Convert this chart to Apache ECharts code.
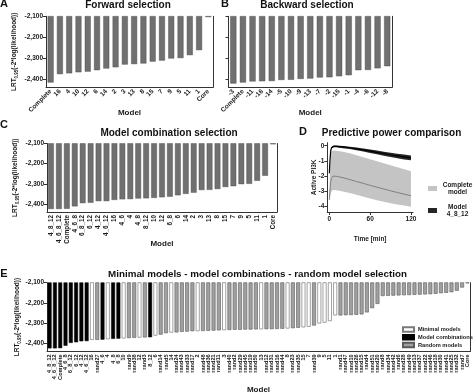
<!DOCTYPE html>
<html><head><meta charset="utf-8">
<script src="https://cdn.jsdelivr.net/npm/echarts@6/dist/echarts.min.js"></script>
<style>html,body{margin:0;padding:0;background:#fff}#c{width:474px;height:392px}</style>
</head><body><div id="c"></div>
<script>
// ---------- DATA ----------
const lrtTicks = [-2400, -2300, -2200, -2100];

const aCategories = ['Complete','16','4','10','12','6','14','2','3','13','8','15','7','9','5','11','1','Core'];
const aValues = [-2417,-2377,-2373,-2368,-2365,-2358,-2350,-2344,-2331,-2329,-2326,-2317,-2312,-2302,-2300,-2286,-2262,-2104];

const bCategories = ['-3','Complete','-11','-16','-14','-5','-10','-9','-13','-7','-2','-15','-1','-4','-6','-12','-8'];
const bValues = [-2422,-2417,-2412,-2411,-2410,-2405,-2404,-2400,-2398,-2393,-2392,-2387,-2382,-2358,-2357,-2349,-2339];

const cCategories = ['4_8_12','4_6_8_12','Complete','4_6_8','6_8_12','6_12','4_12','4_6_12','16','4_6','4','4_8','8_12','10','12','6_8','6','14','2','3','13','8','15','7','9','5','11','1','Core'];
const cValues = [-2425,-2425,-2424,-2412,-2396,-2394,-2386,-2386,-2380,-2377,-2376,-2373,-2372,-2370,-2367,-2364,-2357,-2350,-2344,-2331,-2330,-2326,-2316,-2312,-2302,-2300,-2285,-2260,-2104];

const dTimes = [0,1,2,3,4,5,7,10,15,20,30,40,50,60,70,80,90,100,110,120];
const dCompleteMean = [-3.55,-2.9,-2.4,-2.15,-2.05,-2.0,-1.98,-2.0,-2.05,-2.1,-2.22,-2.35,-2.47,-2.6,-2.72,-2.84,-2.96,-3.07,-3.18,-3.28];
const dCompleteHigh = [-3.4,-1.6,-0.6,-0.4,-0.35,-0.33,-0.32,-0.33,-0.36,-0.4,-0.5,-0.62,-0.75,-0.88,-1.02,-1.15,-1.28,-1.42,-1.55,-1.68];
const dCompleteLow = [-3.62,-3.4,-3.15,-3.0,-2.95,-2.92,-2.9,-2.92,-2.96,-3.0,-3.1,-3.22,-3.35,-3.47,-3.58,-3.68,-3.77,-3.85,-3.93,-4.0];
const dModelMean = [-1.8,-0.9,-0.35,-0.15,-0.08,-0.05,-0.04,-0.04,-0.06,-0.08,-0.13,-0.2,-0.27,-0.35,-0.43,-0.51,-0.59,-0.66,-0.73,-0.8];
const dModelHigh = [-1.75,-0.85,-0.3,-0.1,-0.03,0.0,0.01,0.01,0.0,-0.02,-0.06,-0.12,-0.18,-0.25,-0.32,-0.39,-0.46,-0.52,-0.58,-0.64];
const dModelLow = [-1.85,-0.95,-0.4,-0.2,-0.13,-0.1,-0.1,-0.1,-0.13,-0.16,-0.22,-0.3,-0.38,-0.47,-0.56,-0.65,-0.74,-0.82,-0.9,-0.96];
const dXTicks = [0, 60, 120];
const dYTicks = [0, -1, -2, -3, -4];

const eCategories = ['4_8_12','4_6_8_12','Complete','4_6_8','6_8_12','6_12','4_12','4_6_12','16','rand27',
 '4_6','4','4_8','6_8','10','rand9','rand38','12','rand3','8_12',
 '6','rand14','rand5','14','rand24','rand43','rand33','rand17','2','rand48',
 'rand36','rand21','rand11','3','rand40','rand2','rand29','rand45','rand19','rand50',
 '13','rand12','rand31','rand16','rand44','8','rand23','rand35','15','7',
 'rand39','9','5','11','1','rand1','rand47','rand10','rand26','rand15',
 'rand4','rand51','rand20','rand8','rand34','rand42','rand6','rand28','rand49','rand13',
 'rand37','rand22','rand46','rand18','rand30','rand41','rand25','rand32','rand7','Core'];
const eTypes = ['C','C','C','C','C','C','C','C','M','R',
 'C','M','C','C','M','R','R','M','R','C',
 'M','R','R','M','R','R','R','R','M','R',
 'R','R','R','M','R','R','R','R','R','R',
 'M','R','R','R','R','M','R','R','M','M',
 'R','M','M','M','M','R','R','R','R','R',
 'R','R','R','R','R','R','R','R','R','R',
 'R','R','R','R','R','R','R','R','R','R'];
const eValues = [-2425,-2425,-2424,-2412,-2398,-2395,-2390,-2389,-2383,-2383,
 -2382,-2380,-2378,-2377,-2376,-2374,-2373,-2372,-2371,-2370,
 -2362,-2357,-2350,-2347,-2346,-2343,-2342,-2340,-2340,-2339,
 -2338,-2337,-2336,-2335,-2334,-2333,-2333,-2332,-2332,-2331,
 -2331,-2330,-2330,-2329,-2328,-2327,-2325,-2323,-2321,-2318,
 -2312,-2302,-2298,-2290,-2262,-2262,-2261,-2260,-2259,-2257,
 -2247,-2226,-2205,-2166,-2165,-2164,-2163,-2162,-2161,-2160,
 -2159,-2158,-2157,-2155,-2152,-2150,-2147,-2140,-2124,-2103];

// ---------- CHART ----------
const FONT = '"Liberation Sans", Arial, sans-serif';
const TXT = '#1a1a1a';
const lineSt = {color:'#333', width:1};
const fmtLRT = v => v.toLocaleString('en-US');
const lrtName = 'LRT{s|0.95}(-2*log(likelihood))';
const lrtNameStyle = {fontSize:6.5, fontWeight:'bold', color:TXT, fontFamily:FONT,
  rich:{s:{fontSize:4.5, fontWeight:'bold', color:TXT, fontFamily:FONT, padding:[4,0,0,0]}}};

function lrtY(grid, showLabels, withName, gap){
  return {gridIndex:grid, type:'value', min:-2440, max:-2100, position:'left',
    axisLine:{show:true, lineStyle:lineSt},
    axisTick:{show:true, length:3, customValues:lrtTicks, lineStyle:lineSt},
    axisLabel:{show:showLabels, customValues:lrtTicks, formatter:fmtLRT, fontSize:6.5, fontWeight:'bold', color:TXT, fontFamily:FONT, margin:3},
    splitLine:{show:false},
    name: withName ? lrtName : '', nameLocation:'middle', nameGap:gap, nameRotate:90, nameMoveOverlap:false,
    nameTextStyle: lrtNameStyle};
}
function boxY(grid){
  return {gridIndex:grid, type:'value', min:-2440, max:-2100, position:'right',
    axisLine:{show:true, lineStyle:lineSt}, axisTick:{show:false}, axisLabel:{show:false}, splitLine:{show:false}};
}
function catX(grid, cats, rotate, fs, gap){
  return {gridIndex:grid, type:'category', data:cats,
    axisLine:{onZero:false, lineStyle:lineSt},
    axisTick:{alignWithLabel:true, length:2.5, lineStyle:lineSt},
    axisLabel:{interval:0, rotate:rotate, fontSize:fs, fontWeight:'bold', color:TXT, fontFamily:FONT, margin:3},
    name:'Model', nameLocation:'middle', nameGap:gap, nameMoveOverlap:false,
    nameTextStyle:{fontSize:8, fontWeight:'bold', color:TXT, fontFamily:FONT}};
}
const greyBar = {color:'#707070', borderColor:'#454545', borderWidth:0.4};

function band(name, lo, hi, fill){
  return {type:'custom', name:name, xAxisIndex:3, yAxisIndex:6, silent:true,
    itemStyle:{color:fill}, data:[[dTimes[0], lo[0]]], encode:{x:0, y:1},
    renderItem:(params, api) => {
      const pts = [];
      for (let i=0;i<dTimes.length;i++) pts.push(api.coord([dTimes[i], hi[i]]));
      for (let i=dTimes.length-1;i>=0;i--) pts.push(api.coord([dTimes[i], lo[i]]));
      return {type:'polygon', shape:{points:pts}, style:{fill:fill}};
    }};
}
function meanLine(vals, color, w){
  return {type:'line', xAxisIndex:3, yAxisIndex:6, silent:true, symbol:'none',
    data:dTimes.map((t,i)=>[t, vals[i]]), lineStyle:{color:color, width:w}, itemStyle:{color:color}};
}
function eSeries(name, type, style){
  return {type:'bar', name:name, xAxisIndex:4, yAxisIndex:7, silent:true, barGap:'-100%', barCategoryGap:'26%',
    data:eValues.map((v,i)=> eTypes[i]===type ? v : '-'), itemStyle:style};
}

const title = (txt, x, y, fs) => ({type:'text', x:x, y:y, style:{text:txt, fontSize:fs, fontWeight:'bold', fill:'#111', fontFamily:FONT, textAlign:'center', textVerticalAlign:'middle'}});

const option = {
  animation:false,
  textStyle:{fontFamily:FONT},
  grid:[
    {left:46, top:16.3, width:167, height:71, outerBoundsMode:'none'},
    {left:228.5, top:16.3, width:163.5, height:71, outerBoundsMode:'none'},
    {left:47, top:143.5, width:230, height:68.5, outerBoundsMode:'none'},
    {left:327.3, top:142.7, width:85.7, height:69.3, outerBoundsMode:'none'},
    {left:47, top:282.7, width:423, height:68.7, outerBoundsMode:'none'}
  ],
  xAxis:[
    catX(0, aCategories, 45, 6.5, 21),
    catX(1, bCategories, 45, 6.5, 21),
    catX(2, cCategories, 90, 6.3, 28),
    {gridIndex:3, type:'value', min:-3, max:123,
      axisLine:{onZero:false, lineStyle:lineSt},
      axisTick:{length:3, customValues:dXTicks, lineStyle:lineSt},
      axisLabel:{customValues:dXTicks, fontSize:6.5, fontWeight:'bold', color:TXT, fontFamily:FONT, margin:4},
      splitLine:{show:false},
      name:'Time [min]', nameLocation:'middle', nameGap:24, nameMoveOverlap:false,
      nameTextStyle:{fontSize:6.5, fontWeight:'bold', color:TXT, fontFamily:FONT}},
    catX(4, eCategories, 90, 5.6, 34)
  ],
  yAxis:[
    lrtY(0, true, true, 27), boxY(0),
    lrtY(1, false, false, 0), boxY(1),
    lrtY(2, true, true, 27), boxY(2),
    {gridIndex:3, type:'value', min:-4.35, max:0.2,
      axisLine:{show:true, onZero:false, lineStyle:lineSt},
      axisTick:{length:3, customValues:dYTicks, lineStyle:lineSt},
      axisLabel:{customValues:dYTicks, fontSize:6.5, fontWeight:'bold', color:TXT, fontFamily:FONT, margin:3},
      splitLine:{show:false},
      name:'Active PI3K', nameLocation:'middle', nameGap:10, nameRotate:90, nameMoveOverlap:false,
      nameTextStyle:{fontSize:6.5, fontWeight:'bold', color:TXT, fontFamily:FONT}},
    lrtY(4, true, true, 25), boxY(4)
  ],
  legend:[
    {data:['Complete model','Model 4_8_12'], left:428, top:181, orient:'vertical', icon:'rect', padding:0,
      itemWidth:9, itemHeight:5, itemGap:7, selectedMode:false,
      formatter: n => n==='Complete model' ? '{a|Complete}\n{a|model}' : '{a|Model}\n{a|4_8_12}',
      textStyle:{fontSize:6.5, fontWeight:'bold', color:TXT, fontFamily:FONT, lineHeight:7.5,
        rich:{a:{fontSize:6.5, fontWeight:'bold', color:TXT, fontFamily:FONT, width:31, align:'center', lineHeight:7.5}}}},
    {data:['Minimal models','Model combinations','Random models'], left:402, top:326, orient:'vertical', icon:'rect', padding:0,
      itemWidth:11, itemHeight:4.5, itemGap:0.8, selectedMode:false,
      textStyle:{fontSize:5.7, fontWeight:'bold', color:TXT, fontFamily:FONT, lineHeight:7, padding:[0,0,0,-1]}}
  ],
  graphic:[
    title('A', 4, 4, 11), title('Forward selection', 128, 5.5, 10),
    title('B', 225, 4, 11), title('Backward selection', 307, 5.5, 10),
    title('C', 4, 125, 11), title('Model combination selection', 169, 133, 10),
    title('D', 303, 132, 11), title('Predictive power comparison', 391.5, 133, 10),
    title('E', 4, 274, 11), title('Minimal models - model combinations - random model selection', 257.5, 274, 9.8)
  ],
  series:[
    {type:'bar', name:'A', xAxisIndex:0, yAxisIndex:0, data:aValues, barCategoryGap:'36%', itemStyle:greyBar, silent:true},
    {type:'bar', name:'B', xAxisIndex:1, yAxisIndex:2, data:bValues, barCategoryGap:'36%', itemStyle:greyBar, silent:true},
    {type:'bar', name:'C', xAxisIndex:2, yAxisIndex:4, data:cValues, barCategoryGap:'28%', itemStyle:greyBar, silent:true},
    band('Complete model', dCompleteLow, dCompleteHigh, '#c4c4c4'),
    meanLine(dCompleteMean, '#808080', 1),
    band('Model 4_8_12', dModelLow, dModelHigh, '#262626'),
    meanLine(dModelMean, '#000', 1.2),
    eSeries('Minimal models', 'M', {color:'#ffffff', borderColor:'#7a7a7a', borderWidth:0.7}),
    eSeries('Model combinations', 'C', {color:'#000000', borderColor:'#000', borderWidth:0.5}),
    eSeries('Random models', 'R', {color:'#a0a0a0', borderColor:'#5a5a5a', borderWidth:0.6})
  ]
};
const chart = echarts.init(document.getElementById('c'));
chart.setOption(option);
</script>
</body></html>
